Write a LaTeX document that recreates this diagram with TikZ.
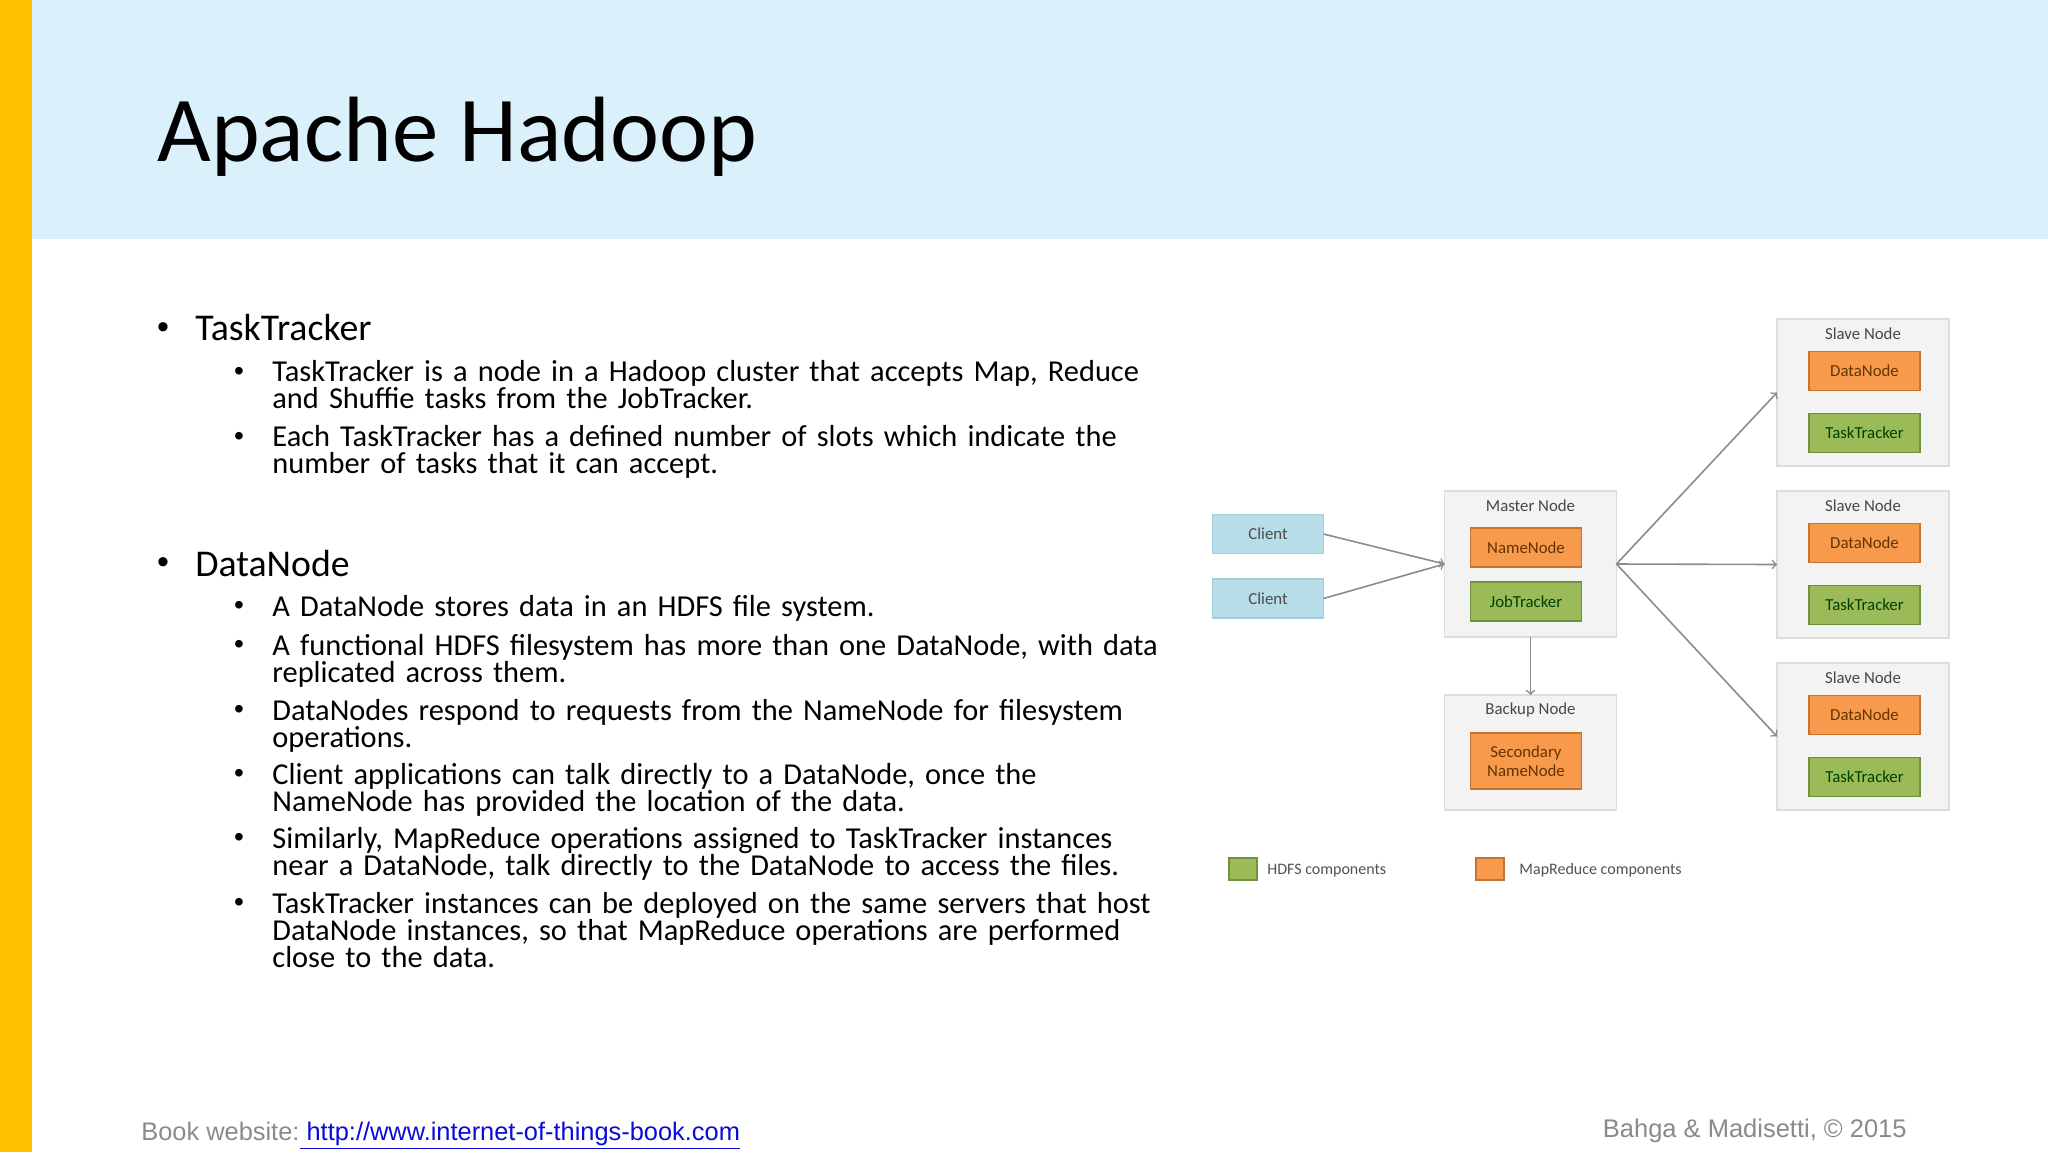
\documentclass[tikz,border=0pt]{standalone}
\usepackage{fontspec}
\setmainfont{Carlito}
\newfontfamily\footerfont{Liberation Sans}
\usepackage{xcolor}
\definecolor{barcol}{HTML}{FFC000}
\definecolor{headcol}{HTML}{DAF0FB}
\definecolor{orangecol}{HTML}{F79A4C}
\definecolor{orangeline}{HTML}{C8722F}
\definecolor{greencol}{HTML}{9BBB59}
\definecolor{greenline}{HTML}{6F9140}
\definecolor{clientcol}{HTML}{B7DDE8}
\definecolor{clientline}{HTML}{A6CEDB}
\definecolor{boxcol}{HTML}{F3F3F3}
\definecolor{boxline}{HTML}{DDDDDD}
\definecolor{arrowcol}{HTML}{8C8C8C}
\definecolor{footcol}{HTML}{8A8A8A}
\definecolor{linkcol}{HTML}{0B0BD8}
\tikzset{
    boxnode/.style={rectangle, draw=boxline, fill=boxcol, line width=0.7pt, outer sep=0pt, inner sep=0pt, minimum width=86pt},
    partnode/.style={rectangle, line width=0.8pt, outer sep=0pt, inner sep=0pt, minimum width=55.5pt, minimum height=19.5pt, align=center, font=\fontsize{8.4}{9.6}\selectfont},
    orangenode/.style={partnode, draw=orangeline, fill=orangecol, text=orange!40!black},
    greennode/.style={partnode, draw=greenline, fill=greencol, text=green!25!black},
    clientnode/.style={partnode, draw=clientline, fill=clientcol, text=black!70},
    boxtitle/.style={inner sep=0pt, text=black!72, font=\fontsize{8.4}{9.6}\selectfont},
    legendtext/.style={inner sep=0pt, anchor=west, text=black!68, font=\fontsize{8}{9.6}\selectfont},
    linkarrow/.style={draw=arrowcol, line width=0.8pt, -{to}},
    headitem/.style={inner sep=0pt, anchor=base west, font=\fontsize{18.9}{20}\selectfont},
    subitem/.style={inner sep=0pt, anchor=base west, text width=470pt, align=left, font=\fontsize{15.2}{13.5}\selectfont},
    headdot/.style={inner sep=0pt, anchor=base, font=\footerfont\fontsize{17}{20}\selectfont},
    subdot/.style={inner sep=0pt, anchor=base, font=\footerfont\fontsize{14}{13.4}\selectfont},
}
\begin{document}
\begin{tikzpicture}[x=0.5pt, y=-0.5pt]
            \useasboundingbox (0, 0) rectangle (2048, 1152);

            %background
            \fill[white] (0, 0) rectangle (2048, 1152);
            \fill[headcol] (32, 0) rectangle (2048, 239);
            \fill[barcol] (0, 0) rectangle (32, 1152);

            %title
            \node[inner sep=0pt, anchor=base west, font=\fontsize{46.4}{50}\selectfont] (title) at (157, 161) {Apache Hadoop};

            %text
            \node[headdot] (dota) at (163, 338) {•};
            \node[headitem] (tasktracker) at (195, 340.5) {TaskTracker};
            \node[subdot] (dotb) at (239, 380) {•};
            \node[subitem] (itemb) at (272, 381) {TaskTracker is a node in a Hadoop cluster that accepts Map, Reduce\\and Shuffie tasks from the JobTracker.};
            \node[subdot] (dotc) at (239, 445) {•};
            \node[subitem] (itemc) at (272, 446.5) {Each TaskTracker has a defined number of slots which indicate the\\number of tasks that it can accept.};
            \node[headdot] (dotd) at (163, 573) {•};
            \node[headitem] (datanode) at (195, 576.5) {DataNode};
            \node[subdot] (dote) at (239, 614) {•};
            \node[subitem] (iteme) at (272, 616) {A DataNode stores data in an HDFS file system.};
            \node[subdot] (dotf) at (239, 653) {•};
            \node[subitem] (itemf) at (272, 655) {A functional HDFS filesystem has more than one DataNode, with data\\replicated across them.};
            \node[subdot] (dotg) at (239, 718) {•};
            \node[subitem] (itemg) at (272, 720) {DataNodes respond to requests from the NameNode for filesystem\\operations.};
            \node[subdot] (doth) at (239, 782) {•};
            \node[subitem] (itemh) at (272, 784.5) {Client applications can talk directly to a DataNode, once the\\NameNode has provided the location of the data.};
            \node[subdot] (doti) at (239, 846) {•};
            \node[subitem] (itemi) at (272, 848.5) {Similarly, MapReduce operations assigned to TaskTracker instances\\near a DataNode, talk directly to the DataNode to access the files.};
            \node[subdot] (dotj) at (239, 911) {•};
            \node[subitem] (itemj) at (272, 913) {TaskTracker instances can be deployed on the same servers that host\\DataNode instances, so that MapReduce operations are performed\\close to the data.};

            %footer
            \node[inner sep=0pt, anchor=base west, text=footcol, font=\footerfont\fontsize{12.7}{15}\selectfont] (website) at (141, 1140) {Book website:\textcolor{linkcol}{\underline{ http://www.internet-of-things-book.com}}};
            \node[inner sep=0pt, anchor=base east, text=footcol, font=\footerfont\fontsize{12.75}{15}\selectfont] (copyright) at (1907, 1137) {Bahga \& Madisetti, © 2015};

            %nodes
            \node[clientnode, text depth=0pt, yshift=-0.5pt] (clienta) at (1268, 533) {Client};
            \node[clientnode, text depth=0pt, yshift=-0.5pt] (clientb) at (1268, 597.5) {Client};

            \node[boxnode, minimum height=73pt] (master) at (1530.5, 564) {};
            \node[boxtitle] (mastertitle) at (1530.5, 506) {Master Node};
            \node[orangenode] (namenode) at (1526, 547.5) {NameNode};
            \node[greennode] (jobtracker) at (1526, 601.5) {JobTracker};

            \node[boxnode, minimum height=57.5pt] (backup) at (1530.5, 752.5) {};
            \node[boxtitle] (backuptitle) at (1530.5, 710.5) {Backup Node};
            \node[orangenode, minimum height=28pt] (secondary) at (1526, 761) {Secondary\\NameNode};

            \node[boxnode, minimum height=73.5pt] (slavea) at (1863, 392.5) {};
            \node[boxtitle] (slaveatitle) at (1863, 334) {Slave Node};
            \node[orangenode] (dataa) at (1864.5, 371) {DataNode};
            \node[greennode] (taska) at (1864.5, 433) {TaskTracker};

            \node[boxnode, minimum height=73.5pt] (slaveb) at (1863, 564.5) {};
            \node[boxtitle] (slavebtitle) at (1863, 506) {Slave Node};
            \node[orangenode] (datab) at (1864.5, 543) {DataNode};
            \node[greennode] (taskb) at (1864.5, 605) {TaskTracker};

            \node[boxnode, minimum height=73.5pt] (slavec) at (1863, 736.5) {};
            \node[boxtitle] (slavectitle) at (1863, 678) {Slave Node};
            \node[orangenode] (datac) at (1864.5, 715) {DataNode};
            \node[greennode] (taskc) at (1864.5, 777) {TaskTracker};

            %legend
            \node[greennode, minimum width=14pt, minimum height=11pt] (hdfskey) at (1243, 869) {};
            \node[legendtext] (hdfstext) at (1267, 871) {HDFS components};
            \node[orangenode, minimum width=14pt, minimum height=11pt] (mrkey) at (1490, 869) {};
            \node[legendtext] (mrtext) at (1519, 870) {MapReduce components};

            %edges
            \draw[linkarrow] (clienta.east) -- (master.west);
            \draw[linkarrow] (clientb.east) -- (master.west);
            \draw[linkarrow] (master.east) -- (slavea.west);
            \draw[linkarrow] (master.east) -- (slaveb.west);
            \draw[linkarrow] (master.east) -- (slavec.west);
            \draw[linkarrow] (master.south) -- (backup.north);
        \end{tikzpicture}
\end{document}
